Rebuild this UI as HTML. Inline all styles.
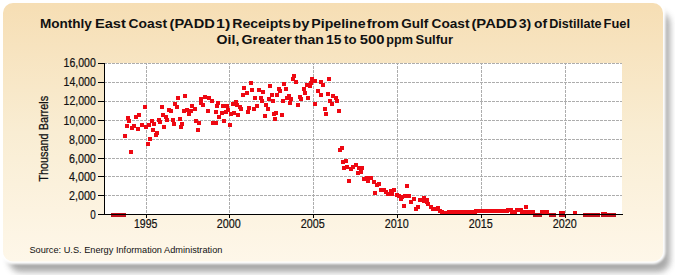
<!DOCTYPE html>
<html><head><meta charset="utf-8"><style>
html,body{margin:0;padding:0;background:#fff;width:675px;height:275px;overflow:hidden}
svg{display:block}
text{font-family:"Liberation Sans",sans-serif}
</style></head><body>
<svg width="675" height="275" viewBox="0 0 675 275" shape-rendering="crispEdges">
<defs>
<linearGradient id="bg" x1="0" y1="0" x2="0" y2="1">
<stop offset="0" stop-color="#f6deb4"/>
<stop offset="0.5" stop-color="#f9edd3"/>
<stop offset="1" stop-color="#fef7e9"/>
</linearGradient>
<filter id="sh" x="-5%" y="-5%" width="110%" height="115%"><feGaussianBlur stdDeviation="3"/></filter>
<filter id="rim" x="-5%" y="-5%" width="110%" height="115%"><feGaussianBlur stdDeviation="1.1"/></filter>
</defs>
<rect x="0" y="0" width="675" height="275" fill="#fff"/>
<rect x="9" y="12" width="661" height="260" rx="12" ry="12" fill="#888" opacity="0.72" filter="url(#sh)" shape-rendering="auto"/>
<rect x="3" y="3" width="660" height="258.5" rx="10" ry="10" fill="none" stroke="#fff" stroke-width="5" filter="url(#rim)" shape-rendering="auto"/>
<rect x="3" y="3" width="660" height="258.5" rx="10" ry="10" fill="url(#bg)" shape-rendering="auto"/>
<rect x="105" y="63" width="517" height="151" fill="#fff"/>
<g stroke="#adadad" stroke-width="1" stroke-dasharray="3,1" stroke-dashoffset="1"><line x1="105" y1="195.5" x2="622" y2="195.5"/><line x1="105" y1="176.5" x2="622" y2="176.5"/><line x1="105" y1="158.5" x2="622" y2="158.5"/><line x1="105" y1="139.5" x2="622" y2="139.5"/><line x1="105" y1="120.5" x2="622" y2="120.5"/><line x1="105" y1="101.5" x2="622" y2="101.5"/><line x1="105" y1="82.5" x2="622" y2="82.5"/><line x1="105" y1="63.5" x2="622" y2="63.5"/><line x1="146.5" y1="63" x2="146.5" y2="214"/><line x1="229.5" y1="63" x2="229.5" y2="214"/><line x1="313.5" y1="63" x2="313.5" y2="214"/><line x1="397.5" y1="63" x2="397.5" y2="214"/><line x1="481.5" y1="63" x2="481.5" y2="214"/><line x1="565.5" y1="63" x2="565.5" y2="214"/></g>
<g fill="#ee0812"><rect x="143" y="105" width="4" height="4"/><rect x="160" y="105" width="4" height="4"/><rect x="137" y="113" width="4" height="4"/><rect x="134" y="115" width="4" height="4"/><rect x="126" y="116" width="4" height="4"/><rect x="127" y="119" width="4" height="4"/><rect x="161" y="113" width="4" height="4"/><rect x="150" y="119" width="4" height="4"/><rect x="157" y="118" width="4" height="4"/><rect x="125" y="124" width="4" height="4"/><rect x="130" y="126" width="4" height="4"/><rect x="132" y="124" width="4" height="4"/><rect x="136" y="127" width="4" height="4"/><rect x="140" y="123" width="4" height="4"/><rect x="144" y="125" width="4" height="4"/><rect x="147" y="123" width="4" height="4"/><rect x="152" y="122" width="4" height="4"/><rect x="151" y="128" width="4" height="4"/><rect x="155" y="131" width="4" height="4"/><rect x="154" y="133" width="4" height="4"/><rect x="158" y="120" width="4" height="4"/><rect x="162" y="125" width="4" height="4"/><rect x="123" y="134" width="4" height="4"/><rect x="148" y="137" width="4" height="4"/><rect x="146" y="142" width="4" height="4"/><rect x="129" y="150" width="4" height="4"/><rect x="176" y="96" width="4" height="4"/><rect x="183" y="94" width="4" height="4"/><rect x="167" y="108" width="4" height="4"/><rect x="169" y="109" width="4" height="4"/><rect x="173" y="102" width="4" height="4"/><rect x="175" y="105" width="4" height="4"/><rect x="182" y="109" width="4" height="4"/><rect x="185" y="108" width="4" height="4"/><rect x="189" y="109" width="4" height="4"/><rect x="190" y="104" width="4" height="4"/><rect x="193" y="107" width="4" height="4"/><rect x="199" y="97" width="4" height="4"/><rect x="199" y="101" width="4" height="4"/><rect x="201" y="103" width="4" height="4"/><rect x="203" y="95" width="4" height="4"/><rect x="207" y="96" width="4" height="4"/><rect x="210" y="99" width="4" height="4"/><rect x="215" y="104" width="4" height="4"/><rect x="216" y="101" width="4" height="4"/><rect x="206" y="109" width="4" height="4"/><rect x="214" y="110" width="4" height="4"/><rect x="164" y="115" width="4" height="4"/><rect x="165" y="118" width="4" height="4"/><rect x="171" y="118" width="4" height="4"/><rect x="172" y="122" width="4" height="4"/><rect x="178" y="117" width="4" height="4"/><rect x="180" y="122" width="4" height="4"/><rect x="179" y="125" width="4" height="4"/><rect x="187" y="112" width="4" height="4"/><rect x="194" y="119" width="4" height="4"/><rect x="197" y="121" width="4" height="4"/><rect x="196" y="128" width="4" height="4"/><rect x="217" y="115" width="4" height="4"/><rect x="211" y="121" width="4" height="4"/><rect x="214" y="121" width="4" height="4"/><rect x="221" y="104" width="4" height="4"/><rect x="225" y="104" width="4" height="4"/><rect x="226" y="108" width="4" height="4"/><rect x="231" y="102" width="4" height="4"/><rect x="234" y="100" width="4" height="4"/><rect x="235" y="103" width="4" height="4"/><rect x="238" y="105" width="4" height="4"/><rect x="239" y="107" width="4" height="4"/><rect x="241" y="93" width="4" height="4"/><rect x="245" y="91" width="4" height="4"/><rect x="242" y="86" width="4" height="4"/><rect x="247" y="106" width="4" height="4"/><rect x="246" y="110" width="4" height="4"/><rect x="250" y="88" width="4" height="4"/><rect x="253" y="96" width="4" height="4"/><rect x="252" y="107" width="4" height="4"/><rect x="255" y="104" width="4" height="4"/><rect x="257" y="88" width="4" height="4"/><rect x="261" y="90" width="4" height="4"/><rect x="259" y="96" width="4" height="4"/><rect x="260" y="99" width="4" height="4"/><rect x="264" y="103" width="4" height="4"/><rect x="266" y="107" width="4" height="4"/><rect x="267" y="97" width="4" height="4"/><rect x="270" y="93" width="4" height="4"/><rect x="271" y="99" width="4" height="4"/><rect x="249" y="81" width="4" height="4"/><rect x="268" y="84" width="4" height="4"/><rect x="220" y="111" width="4" height="4"/><rect x="224" y="110" width="4" height="4"/><rect x="229" y="112" width="4" height="4"/><rect x="232" y="111" width="4" height="4"/><rect x="236" y="113" width="4" height="4"/><rect x="222" y="119" width="4" height="4"/><rect x="228" y="123" width="4" height="4"/><rect x="263" y="114" width="4" height="4"/><rect x="272" y="112" width="4" height="4"/><rect x="273" y="117" width="4" height="4"/><rect x="277" y="87" width="4" height="4"/><rect x="282" y="82" width="4" height="4"/><rect x="284" y="87" width="4" height="4"/><rect x="292" y="74" width="4" height="4"/><rect x="291" y="77" width="4" height="4"/><rect x="294" y="80" width="4" height="4"/><rect x="302" y="87" width="4" height="4"/><rect x="305" y="83" width="4" height="4"/><rect x="308" y="84" width="4" height="4"/><rect x="309" y="81" width="4" height="4"/><rect x="310" y="77" width="4" height="4"/><rect x="313" y="79" width="4" height="4"/><rect x="316" y="89" width="4" height="4"/><rect x="319" y="80" width="4" height="4"/><rect x="321" y="83" width="4" height="4"/><rect x="327" y="77" width="4" height="4"/><rect x="278" y="89" width="4" height="4"/><rect x="275" y="93" width="4" height="4"/><rect x="281" y="99" width="4" height="4"/><rect x="285" y="96" width="4" height="4"/><rect x="287" y="94" width="4" height="4"/><rect x="289" y="97" width="4" height="4"/><rect x="288" y="101" width="4" height="4"/><rect x="296" y="103" width="4" height="4"/><rect x="298" y="95" width="4" height="4"/><rect x="299" y="97" width="4" height="4"/><rect x="303" y="91" width="4" height="4"/><rect x="306" y="96" width="4" height="4"/><rect x="313" y="102" width="4" height="4"/><rect x="319" y="93" width="4" height="4"/><rect x="326" y="92" width="4" height="4"/><rect x="328" y="99" width="4" height="4"/><rect x="323" y="107" width="4" height="4"/><rect x="274" y="111" width="4" height="4"/><rect x="280" y="113" width="4" height="4"/><rect x="324" y="112" width="4" height="4"/><rect x="331" y="94" width="4" height="4"/><rect x="334" y="96" width="4" height="4"/><rect x="335" y="99" width="4" height="4"/><rect x="330" y="102" width="4" height="4"/><rect x="337" y="109" width="4" height="4"/><rect x="340" y="146" width="4" height="4"/><rect x="338" y="148" width="4" height="4"/><rect x="341" y="160" width="4" height="4"/><rect x="344" y="159" width="4" height="4"/><rect x="354" y="163" width="4" height="4"/><rect x="342" y="166" width="4" height="4"/><rect x="345" y="165" width="4" height="4"/><rect x="349" y="167" width="4" height="4"/><rect x="351" y="165" width="4" height="4"/><rect x="357" y="166" width="4" height="4"/><rect x="360" y="166" width="4" height="4"/><rect x="356" y="171" width="4" height="4"/><rect x="359" y="170" width="4" height="4"/><rect x="347" y="179" width="4" height="4"/><rect x="362" y="177" width="4" height="4"/><rect x="366" y="178" width="4" height="4"/><rect x="369" y="176" width="4" height="4"/><rect x="366" y="179" width="4" height="4"/><rect x="372" y="180" width="4" height="4"/><rect x="375" y="183" width="4" height="4"/><rect x="377" y="182" width="4" height="4"/><rect x="379" y="188" width="4" height="4"/><rect x="382" y="188" width="4" height="4"/><rect x="384" y="190" width="4" height="4"/><rect x="386" y="192" width="4" height="4"/><rect x="389" y="189" width="4" height="4"/><rect x="392" y="188" width="4" height="4"/><rect x="390" y="192" width="4" height="4"/><rect x="395" y="193" width="4" height="4"/><rect x="397" y="194" width="4" height="4"/><rect x="373" y="191" width="4" height="4"/><rect x="405" y="184" width="4" height="4"/><rect x="400" y="195" width="4" height="4"/><rect x="403" y="194" width="4" height="4"/><rect x="407" y="194" width="4" height="4"/><rect x="412" y="197" width="4" height="4"/><rect x="422" y="196" width="4" height="4"/><rect x="418" y="198" width="4" height="4"/><rect x="425" y="198" width="4" height="4"/><rect x="399" y="197" width="4" height="4"/><rect x="409" y="200" width="4" height="4"/><rect x="402" y="204" width="4" height="4"/><rect x="414" y="207" width="4" height="4"/><rect x="416" y="205" width="4" height="4"/><rect x="422" y="199" width="4" height="4"/><rect x="425" y="200" width="4" height="4"/><rect x="426" y="202" width="4" height="4"/><rect x="429" y="205" width="4" height="4"/><rect x="431" y="207" width="4" height="4"/><rect x="434" y="207" width="4" height="4"/><rect x="436" y="206" width="4" height="4"/><rect x="438" y="209" width="4" height="4"/><rect x="440" y="210" width="4" height="4"/><rect x="444" y="211" width="4" height="4"/><rect x="447" y="210" width="4" height="4"/><rect x="449" y="210" width="4" height="4"/><rect x="450" y="210" width="4" height="4"/><rect x="452" y="210" width="4" height="4"/><rect x="453" y="210" width="4" height="4"/><rect x="454" y="210" width="4" height="4"/><rect x="456" y="210" width="4" height="4"/><rect x="457" y="210" width="4" height="4"/><rect x="459" y="210" width="4" height="4"/><rect x="460" y="210" width="4" height="4"/><rect x="461" y="210" width="4" height="4"/><rect x="463" y="210" width="4" height="4"/><rect x="464" y="210" width="4" height="4"/><rect x="466" y="210" width="4" height="4"/><rect x="467" y="210" width="4" height="4"/><rect x="468" y="210" width="4" height="4"/><rect x="470" y="210" width="4" height="4"/><rect x="471" y="210" width="4" height="4"/><rect x="473" y="210" width="4" height="4"/><rect x="474" y="209" width="4" height="4"/><rect x="475" y="209" width="4" height="4"/><rect x="477" y="209" width="4" height="4"/><rect x="478" y="209" width="4" height="4"/><rect x="480" y="209" width="4" height="4"/><rect x="481" y="209" width="4" height="4"/><rect x="482" y="209" width="4" height="4"/><rect x="484" y="209" width="4" height="4"/><rect x="485" y="209" width="4" height="4"/><rect x="487" y="209" width="4" height="4"/><rect x="488" y="209" width="4" height="4"/><rect x="489" y="209" width="4" height="4"/><rect x="491" y="209" width="4" height="4"/><rect x="492" y="209" width="4" height="4"/><rect x="494" y="209" width="4" height="4"/><rect x="495" y="209" width="4" height="4"/><rect x="496" y="209" width="4" height="4"/><rect x="498" y="209" width="4" height="4"/><rect x="499" y="209" width="4" height="4"/><rect x="501" y="209" width="4" height="4"/><rect x="502" y="209" width="4" height="4"/><rect x="503" y="209" width="4" height="4"/><rect x="505" y="209" width="4" height="4"/><rect x="506" y="208" width="4" height="4"/><rect x="508" y="208" width="4" height="4"/><rect x="509" y="208" width="4" height="4"/><rect x="510" y="210" width="4" height="4"/><rect x="512" y="210" width="4" height="4"/><rect x="513" y="210" width="4" height="4"/><rect x="515" y="208" width="4" height="4"/><rect x="516" y="208" width="4" height="4"/><rect x="517" y="208" width="4" height="4"/><rect x="519" y="208" width="4" height="4"/><rect x="520" y="210" width="4" height="4"/><rect x="522" y="210" width="4" height="4"/><rect x="523" y="210" width="4" height="4"/><rect x="524" y="210" width="4" height="4"/><rect x="526" y="210" width="4" height="4"/><rect x="527" y="210" width="4" height="4"/><rect x="529" y="210" width="4" height="4"/><rect x="530" y="210" width="4" height="4"/><rect x="531" y="210" width="4" height="4"/><rect x="540" y="210" width="4" height="4"/><rect x="541" y="210" width="4" height="4"/><rect x="542" y="210" width="4" height="4"/><rect x="544" y="210" width="4" height="4"/><rect x="545" y="210" width="4" height="4"/><rect x="559" y="211" width="4" height="4"/><rect x="561" y="211" width="4" height="4"/><rect x="573" y="211" width="4" height="4"/><rect x="601" y="212" width="4" height="4"/><rect x="603" y="212" width="4" height="4"/><rect x="524" y="205" width="4" height="4"/><rect x="365" y="176" width="4" height="4"/></g>
<g fill="#c0101c"><rect x="111" y="213" width="4" height="4"/><rect x="112" y="213" width="4" height="4"/><rect x="114" y="213" width="4" height="4"/><rect x="115" y="213" width="4" height="4"/><rect x="116" y="213" width="4" height="4"/><rect x="118" y="213" width="4" height="4"/><rect x="119" y="213" width="4" height="4"/><rect x="121" y="213" width="4" height="4"/><rect x="122" y="213" width="4" height="4"/><rect x="533" y="213" width="4" height="4"/><rect x="534" y="213" width="4" height="4"/><rect x="535" y="213" width="4" height="4"/><rect x="537" y="213" width="4" height="4"/><rect x="538" y="213" width="4" height="4"/><rect x="549" y="213" width="4" height="4"/><rect x="549" y="213" width="4" height="4"/><rect x="551" y="213" width="4" height="4"/><rect x="551" y="213" width="4" height="4"/><rect x="552" y="213" width="4" height="4"/><rect x="552" y="213" width="4" height="4"/><rect x="559" y="213" width="4" height="4"/><rect x="561" y="213" width="4" height="4"/><rect x="583" y="213" width="4" height="4"/><rect x="583" y="213" width="4" height="4"/><rect x="584" y="213" width="4" height="4"/><rect x="584" y="213" width="4" height="4"/><rect x="586" y="213" width="4" height="4"/><rect x="586" y="213" width="4" height="4"/><rect x="587" y="213" width="4" height="4"/><rect x="587" y="213" width="4" height="4"/><rect x="589" y="213" width="4" height="4"/><rect x="589" y="213" width="4" height="4"/><rect x="590" y="213" width="4" height="4"/><rect x="590" y="213" width="4" height="4"/><rect x="591" y="213" width="4" height="4"/><rect x="591" y="213" width="4" height="4"/><rect x="593" y="213" width="4" height="4"/><rect x="593" y="213" width="4" height="4"/><rect x="594" y="213" width="4" height="4"/><rect x="594" y="213" width="4" height="4"/><rect x="596" y="213" width="4" height="4"/><rect x="596" y="213" width="4" height="4"/><rect x="601" y="213" width="4" height="4"/><rect x="603" y="213" width="4" height="4"/><rect x="604" y="213" width="4" height="4"/><rect x="604" y="213" width="4" height="4"/><rect x="605" y="213" width="4" height="4"/><rect x="605" y="213" width="4" height="4"/><rect x="607" y="213" width="4" height="4"/><rect x="607" y="213" width="4" height="4"/><rect x="608" y="213" width="4" height="4"/><rect x="608" y="213" width="4" height="4"/><rect x="610" y="213" width="4" height="4"/><rect x="610" y="213" width="4" height="4"/><rect x="611" y="213" width="4" height="4"/><rect x="611" y="213" width="4" height="4"/><rect x="612" y="213" width="4" height="4"/><rect x="612" y="213" width="4" height="4"/></g>
<g stroke="#000" stroke-width="1"><line x1="104.5" y1="63" x2="104.5" y2="215"/><line x1="104" y1="214.5" x2="623" y2="214.5"/><line x1="98" y1="214.5" x2="104" y2="214.5"/><line x1="98" y1="195.5" x2="104" y2="195.5"/><line x1="98" y1="176.5" x2="104" y2="176.5"/><line x1="98" y1="158.5" x2="104" y2="158.5"/><line x1="98" y1="139.5" x2="104" y2="139.5"/><line x1="98" y1="120.5" x2="104" y2="120.5"/><line x1="98" y1="101.5" x2="104" y2="101.5"/><line x1="98" y1="82.5" x2="104" y2="82.5"/><line x1="98" y1="63.5" x2="104" y2="63.5"/><line x1="146.5" y1="214" x2="146.5" y2="218"/><line x1="229.5" y1="214" x2="229.5" y2="218"/><line x1="313.5" y1="214" x2="313.5" y2="218"/><line x1="397.5" y1="214" x2="397.5" y2="218"/><line x1="481.5" y1="214" x2="481.5" y2="218"/><line x1="565.5" y1="214" x2="565.5" y2="218"/></g>
<g fill="#111" stroke="#111" stroke-width="0.2" shape-rendering="auto"><text x="95.8" y="219.2" text-anchor="end" font-size="12" textLength="5.5" lengthAdjust="spacingAndGlyphs">0</text><text x="95.8" y="200.1" text-anchor="end" font-size="12" textLength="26.8" lengthAdjust="spacingAndGlyphs">2,000</text><text x="95.8" y="180.9" text-anchor="end" font-size="12" textLength="26.8" lengthAdjust="spacingAndGlyphs">4,000</text><text x="95.8" y="162.8" text-anchor="end" font-size="12" textLength="26.8" lengthAdjust="spacingAndGlyphs">6,000</text><text x="95.8" y="143.7" text-anchor="end" font-size="12" textLength="26.8" lengthAdjust="spacingAndGlyphs">8,000</text><text x="95.8" y="124.5" text-anchor="end" font-size="12" textLength="32.2" lengthAdjust="spacingAndGlyphs">10,000</text><text x="95.8" y="105.4" text-anchor="end" font-size="12" textLength="32.2" lengthAdjust="spacingAndGlyphs">12,000</text><text x="95.8" y="86.2" text-anchor="end" font-size="12" textLength="32.2" lengthAdjust="spacingAndGlyphs">14,000</text><text x="95.8" y="67.1" text-anchor="end" font-size="12" textLength="32.2" lengthAdjust="spacingAndGlyphs">16,000</text><text x="145.7" y="227.9" text-anchor="middle" font-size="12" textLength="23.4" lengthAdjust="spacingAndGlyphs">1995</text><text x="228.7" y="227.9" text-anchor="middle" font-size="12" textLength="24" lengthAdjust="spacingAndGlyphs">2000</text><text x="312.7" y="227.9" text-anchor="middle" font-size="12" textLength="24" lengthAdjust="spacingAndGlyphs">2005</text><text x="396.7" y="227.9" text-anchor="middle" font-size="12" textLength="24" lengthAdjust="spacingAndGlyphs">2010</text><text x="480.7" y="227.9" text-anchor="middle" font-size="12" textLength="24" lengthAdjust="spacingAndGlyphs">2015</text><text x="564.7" y="227.9" text-anchor="middle" font-size="12" textLength="24" lengthAdjust="spacingAndGlyphs">2020</text></g>
<text transform="translate(47.8,138.8) rotate(-90)" text-anchor="middle" font-size="12" textLength="85.9" lengthAdjust="spacingAndGlyphs" fill="#111" stroke="#111" stroke-width="0.25">Thousand Barrels</text>
<g transform="scale(1.0,1)" font-size="13.5" font-weight="bold" fill="#111"><text x="39.90" y="28.3" textLength="52.00" lengthAdjust="spacingAndGlyphs">Monthly</text><text x="94.90" y="28.3" textLength="31.00" lengthAdjust="spacingAndGlyphs">East</text><text x="128.60" y="28.3" textLength="38.50" lengthAdjust="spacingAndGlyphs">Coast</text><text x="169.55" y="28.3" textLength="45.25" lengthAdjust="spacingAndGlyphs">(PADD</text><text x="216.10" y="28.3" textLength="14.25" lengthAdjust="spacingAndGlyphs">1)</text><text x="232.30" y="28.3" textLength="58.50" lengthAdjust="spacingAndGlyphs">Receipts</text><text x="292.30" y="28.3" textLength="17.25" lengthAdjust="spacingAndGlyphs">by</text><text x="311.30" y="28.3" textLength="54.25" lengthAdjust="spacingAndGlyphs">Pipeline</text><text x="366.65" y="28.3" textLength="32.25" lengthAdjust="spacingAndGlyphs">from</text><text x="401.20" y="28.3" textLength="27.00" lengthAdjust="spacingAndGlyphs">Gulf</text><text x="431.50" y="28.3" textLength="38.00" lengthAdjust="spacingAndGlyphs">Coast</text><text x="471.45" y="28.3" textLength="45.75" lengthAdjust="spacingAndGlyphs">(PADD</text><text x="518.75" y="28.3" textLength="12.50" lengthAdjust="spacingAndGlyphs">3)</text><text x="534.00" y="28.3" textLength="13.00" lengthAdjust="spacingAndGlyphs">of</text><text x="549.15" y="28.3" textLength="52.50" lengthAdjust="spacingAndGlyphs">Distillate</text><text x="603.55" y="28.3" textLength="26.50" lengthAdjust="spacingAndGlyphs">Fuel</text><text x="216.60" y="43.7" textLength="22.75" lengthAdjust="spacingAndGlyphs">Oil,</text><text x="241.50" y="43.7" textLength="50.25" lengthAdjust="spacingAndGlyphs">Greater</text><text x="294.25" y="43.7" textLength="29.50" lengthAdjust="spacingAndGlyphs">than</text><text x="326.10" y="43.7" textLength="15.50" lengthAdjust="spacingAndGlyphs">15</text><text x="344.05" y="43.7" textLength="12.50" lengthAdjust="spacingAndGlyphs">to</text><text x="359.80" y="43.7" textLength="24.75" lengthAdjust="spacingAndGlyphs">500</text><text x="386.25" y="43.7" textLength="26.75" lengthAdjust="spacingAndGlyphs">ppm</text><text x="415.50" y="43.7" textLength="37.50" lengthAdjust="spacingAndGlyphs">Sulfur</text></g>
<text x="29.4" y="252.8" font-size="9" textLength="193" lengthAdjust="spacingAndGlyphs" fill="#111">Source: U.S. Energy Information Administration</text>
</svg>
</body></html>
